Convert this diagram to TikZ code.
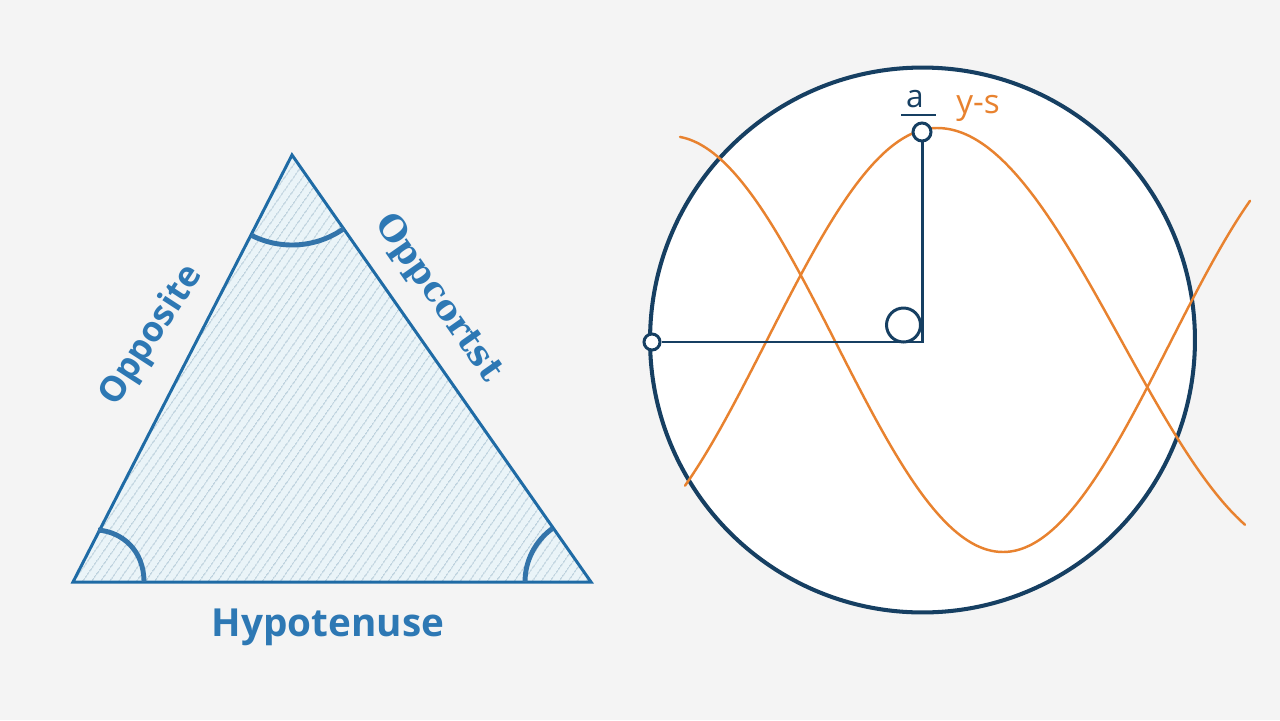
\documentclass[tikz,border=0pt]{standalone}
\usepackage{fontspec}
\setmainfont{Open Sans}
\newfontfamily\serfont{DejaVu Serif}
\usetikzlibrary{patterns.meta}
\definecolor{bg}{HTML}{F4F4F4}
\definecolor{triblue}{HTML}{1F6BA5}
\definecolor{arcblue}{HTML}{3374AA}
\definecolor{txtblue}{HTML}{2D78B4}
\definecolor{navy}{HTML}{163F62}
\definecolor{orng}{HTML}{E8822F}
\definecolor{hatchfill}{HTML}{EAF4F8}
\definecolor{hatchline}{HTML}{BCD1DD}
\tikzset{
  tri/.style={draw=triblue, line width=1.7pt, line join=miter},
  anglearc/.style={draw=arcblue, line width=2.8pt},
  lbl/.style={text=txtblue, font=\fontsize{20}{24}\selectfont\bfseries, inner sep=0pt},
  navyline/.style={draw=navy, line width=1.7pt},
  wave/.style={draw=orng, line width=1.4pt, line cap=round},
  dotnode/.style={circle, draw=navy, fill=white, line width=1.7pt, inner sep=0pt, minimum size=#1},
}
\begin{document}
\begin{tikzpicture}[x=0.02cm, y=-0.02cm]
\fill[bg] (0,0) rectangle (1280,720);
\useasboundingbox (0,0) rectangle (1280,720);

% triangle
\coordinate (A) at (292,155);
\coordinate (B) at (73,582);
\coordinate (Cc) at (591,582);
\fill[hatchfill] (A) -- (B) -- (Cc) -- cycle;
\fill[pattern={Lines[angle=55, distance=4pt, line width=0.8pt]}, pattern color=hatchline] (A) -- (B) -- (Cc) -- cycle;
\draw[tri] (A) -- (B) -- (Cc) -- cycle;

% angle marks
\draw[anglearc] ([shift={(117:90)}]A) arc[start angle=117, end angle=55, radius=90];
\draw[anglearc] (144,582) .. controls (144,550) and (122,532) .. (98,530);
\draw[anglearc] ([shift={(180:66)}]Cc) arc[start angle=180, end angle=234, radius=66];

% labels
\node[lbl, rotate=57] (opp) at (152,336) {Opposite};
\node[lbl, rotate=-55, font=\serfont\fontsize{20}{24}\selectfont\bfseries] (opc) at (438,298) {Oppcortst};
\node[lbl, font=\fontsize{22}{26}\selectfont\bfseries, anchor=base] (hyp) at (328,636) {Hypotenuse};

% circle
\node[circle, draw=navy, fill=white, line width=2.3pt, minimum size=10.9cm, inner sep=0pt] (circ) at (922.5,340) {};

% waves
\draw[wave] plot[domain=680:1250, samples=120, smooth] (\x, {344-208*cos((\x-670)/333*180)});
\draw[wave] plot[domain=685:937, samples=60, smooth] (\x, {340-212*cos((\x-937)/340*180)})
  -- plot[domain=937:1245, samples=70, smooth] (\x, {340-212*cos((\x-937)/368*180)});

% radii
\coordinate (O) at (922,342);
\node[dotnode=0.32cm] (L) at (652,342) {};
\node[dotnode=0.36cm] (T) at (922,132) {};
\draw[navyline] (L) -- (O) -- (T);
\node[dotnode=0.68cm, fill=none] (ra) at (903.5,325) {};

% top labels
\node[text=navy, font=\fontsize{18}{20}\selectfont, inner sep=0pt] (a) at (915,99) {a};
\coordinate (bl) at (901,115);
\coordinate (br) at (936,115);
\draw[navyline] (bl) -- (br);
\node[text=orng, font=\fontsize{19}{22}\selectfont, inner sep=0pt] (ys) at (978,108) {y-s};
\end{tikzpicture}
\end{document}
